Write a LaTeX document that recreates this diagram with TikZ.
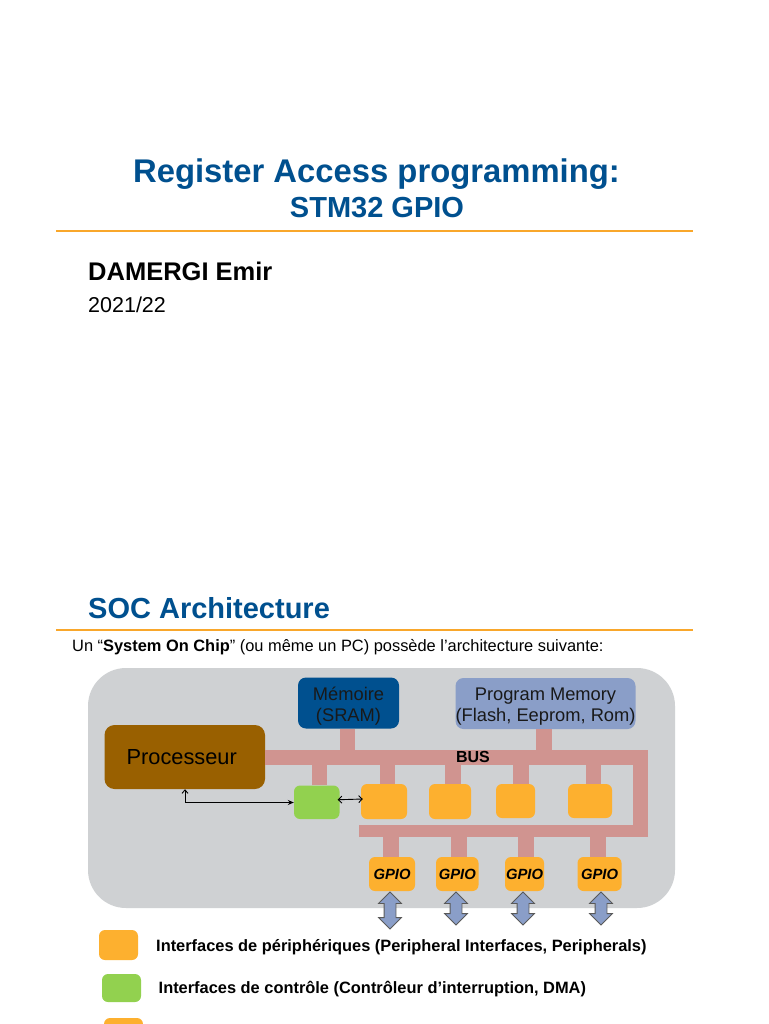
\documentclass[tikz,border=0pt]{standalone}
\usepackage{fontspec}
\setmainfont{Liberation Sans}
\usetikzlibrary{shapes.arrows,arrows.meta}
\definecolor{titleblue}{HTML}{00508F}
\definecolor{rulegold}{HTML}{F9A72B}
\definecolor{panelgray}{HTML}{CFD1D3}
\definecolor{procbrown}{HTML}{996000}
\definecolor{busrose}{HTML}{D09490}
\definecolor{periorange}{HTML}{FDB02F}
\definecolor{ctrlgreen}{HTML}{92D14F}
\definecolor{progblue}{HTML}{8A9EC8}
\tikzset{
  px/.style={x=1pt,y=-1pt},
  block/.style={draw=none,inner sep=0pt,align=center,rounded corners=#1},
  block/.default=6pt,
  peri/.style={block,fill=periorange},
  gpio/.style={peri,font=\fontsize{14.8}{15}\selectfont\bfseries\itshape},
  busbar/.style={draw=busrose,line width=15pt},
  stub/.style={draw=busrose,line width=15.5pt},
  dbl/.style={double arrow,rotate=90,fill=progblue,draw=black!65,line width=.8pt,inner sep=0pt,
     double arrow head extend=5.5pt,double arrow head indent=0pt},
  thinarrow/.style={draw=black,line width=.9pt},
  txt/.style={anchor=base west,inner sep=0pt},
}
\newcommand{\shaft}{\rule{0pt}{11pt}}
\newcommand{\lowered}[1]{\raisebox{-3pt}[\height][\depth]{#1}}
% name, x1, y1, x2, y2, style, text
\newcommand{\pxbox}[7]{\node[#6,minimum width=#4pt-#2pt,minimum height=#5pt-#3pt] (#1) at ({(#2+#4)/2},{(#3+#5)/2}) {#7};}
\begin{document}
\begin{tikzpicture}[px]
\useasboundingbox (0,0) rectangle (768,1024);
\fill[white] (0,0) rectangle (768,1024);

% title page
\node[anchor=base,inner sep=0pt,text=titleblue,font=\fontsize{32.8}{33}\selectfont\bfseries] (title) at (376.5,183) {Register Access programming:};
\node[anchor=base,inner sep=0pt,text=titleblue,font=\fontsize{29}{29}\selectfont\bfseries] (sub) at (377,217.5) {STM32 GPIO};
\draw[rulegold,line width=2pt] (56,231) -- (693,231);
\node[txt,font=\fontsize{25.5}{26}\selectfont\bfseries] (author) at (88,280) {DAMERGI Emir};
\node[txt,font=\fontsize{21.5}{22}\selectfont] (year) at (88,312.5) {2021/22};

% second slide
\node[txt,text=titleblue,font=\fontsize{29}{29}\selectfont\bfseries] (soc) at (88,618) {SOC Architecture};
\draw[rulegold,line width=1.4pt] (56,630) -- (693,630);
\node[txt,font=\fontsize{16.4}{17}\selectfont] (intro) at (72,651.5) {Un “\textbf{System On Chip}” (ou même un PC) possède l’architecture suivante:};

% panel
\pxbox{panel}{88}{668}{675}{908}{block=38pt,fill=panelgray}{}

% blocks
\pxbox{proc}{104.5}{725}{265}{789}{block=10pt,fill=procbrown,font=\fontsize{21.8}{22}\selectfont}{\hspace*{-6pt}Processeur}
\pxbox{mem}{298}{677.5}{399}{728.5}{block=8pt,fill=titleblue,text=black!90,font=\fontsize{18.3}{21}\selectfont}{\lowered{Mémoire}\\\lowered{(SRAM)}}
\pxbox{prog}{456}{678}{635}{729}{block=8pt,fill=progblue,text=black!90,font=\fontsize{18.3}{21}\selectfont}{\lowered{Program Memory}\\\lowered{(Flash, Eeprom, Rom)}}
\pxbox{ctrl}{294}{785.5}{339.5}{819}{block,fill=ctrlgreen}{}
\pxbox{pA}{361}{784}{407}{819}{peri}{}
\pxbox{pB}{429}{784}{471}{819}{peri}{}
\pxbox{pC}{496}{784}{535}{818}{peri}{}
\pxbox{pD}{568}{784}{612}{818}{peri}{}
\pxbox{gA}{369}{857}{415}{891}{gpio}{GPIO}
\pxbox{gB}{436}{857}{478.5}{891}{gpio}{GPIO}
\pxbox{gC}{505}{857}{544}{891}{gpio}{GPIO}
\pxbox{gD}{577.5}{857}{621.5}{891}{gpio}{GPIO}

% bus
\coordinate (upbus) at (640.5,757);
\coordinate (lowbus) at (640.5,831);
\coordinate (busend) at (640.5,837);
\coordinate (lowleft) at (359,831);
\coordinate (lowright) at (648,831);
\draw[busbar,line join=miter] (proc.east |- upbus) -- (upbus) -- (busend);
\draw[draw=busrose,line width=12.5pt] (lowright) -- (lowleft);
\node[anchor=base,inner sep=0pt,font=\fontsize{16}{16}\selectfont\bfseries] (bus) at (473,762) {BUS};

% stubs
\draw[stub] ([xshift=-1pt]mem.south) -- ([xshift=-1pt]mem.south |- upbus);
\draw[stub] ([xshift=-1.5pt]prog.south) -- ([xshift=-1.5pt]prog.south |- upbus);
\draw[stub] ([xshift=2.5pt]ctrl.north) -- ([xshift=2.5pt]ctrl.north |- upbus);
\draw[stub] ([xshift=3.5pt]pA.north) -- ([xshift=3.5pt]pA.north |- upbus);
\draw[stub] ([xshift=3pt]pB.north) -- ([xshift=3pt,yshift=-7pt]pB.north |- upbus);
\draw[stub] ([xshift=5.5pt]pC.north) -- ([xshift=5.5pt]pC.north |- upbus);
\draw[stub] ([xshift=3.5pt]pD.north) -- ([xshift=3.5pt]pD.north |- upbus);
\draw[stub] ([xshift=-1pt]gA.north) -- ([xshift=-1pt]gA.north |- lowbus);
\draw[stub] ([xshift=1.5pt]gB.north) -- ([xshift=1.5pt]gB.north |- lowbus);
\draw[stub] ([xshift=1.5pt]gC.north) -- ([xshift=1.5pt]gC.north |- lowbus);
\draw[stub] ([xshift=-1.5pt]gD.north) -- ([xshift=-1.5pt]gD.north |- lowbus);

% control arrows
\coordinate (tap) at (185,802.5);
\draw[thinarrow,-{Straight Barb[length=3.5pt,width=6pt]}] (tap) -- (tap |- proc.south);
\draw[thinarrow,-{Stealth[length=6pt,width=5pt]}] (tap) -- (tap -| ctrl.west);
\draw[thinarrow,{Straight Barb[length=3.5pt,width=7pt]}-{Straight Barb[length=3.5pt,width=7pt]}] ([xshift=-2pt,yshift=2.5pt]ctrl.east) -- ([xshift=2pt,yshift=2.5pt]pA.west);

% pin arrows
\node[dbl,minimum height=37pt] (aA) at (390,910.5) {\shaft};
\node[dbl,minimum height=33pt] (aB) at (456,908.5) {\shaft};
\node[dbl,minimum height=33pt] (aC) at (523,908.5) {\shaft};
\node[dbl,minimum height=33pt] (aD) at (601,908.5) {\shaft};

% legend
\pxbox{lA}{99}{930}{138}{960}{peri}{}
\pxbox{lB}{102}{974}{141}{1002}{block,fill=ctrlgreen}{}
\node[txt,font=\fontsize{16.4}{17}\selectfont\bfseries] (tA) at (156,951) {Interfaces de périphériques (Peripheral Interfaces, Peripherals)};
\node[txt,font=\fontsize{16.4}{17}\selectfont\bfseries] (tB) at (158.5,993.5) {Interfaces de contrôle (Contrôleur d’interruption, DMA)};
\begin{scope}
\clip (0,1010) rectangle (768,1024);
\pxbox{lC}{104}{1018}{143}{1046}{peri}{}
\end{scope}
\end{tikzpicture}
\end{document}
